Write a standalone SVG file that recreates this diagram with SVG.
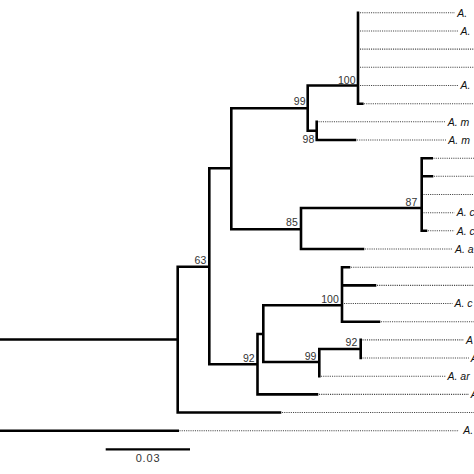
<svg xmlns="http://www.w3.org/2000/svg" width="474" height="474" viewBox="0 0 474 474">
<style>
.br{fill:none;stroke:#000;stroke-width:2.6;stroke-linecap:square;stroke-linejoin:miter}
.dot{fill:none;stroke:#444;stroke-width:1.1;stroke-dasharray:1.1 1.1}
.sp{font-family:"Liberation Sans",Arial,sans-serif;font-size:10.5px;font-style:italic;fill:#111}
.bs{font-family:"Liberation Sans",Arial,sans-serif;font-size:10.5px;fill:#333;text-anchor:end}
.sc{font-family:"Liberation Sans",Arial,sans-serif;font-size:11px;fill:#333;text-anchor:middle;letter-spacing:0.8px}
</style>
<rect width="474" height="474" fill="#fff"/>
<g id="connectors">
<path class="br" d="M-3 339.5H177.7M-3 430.7H177.7
M177.7 266.7V412.5M177.7 266.7H209.3M177.7 412.5H280
M209.3 168.3V364.3M209.3 168.3H231.3M209.3 364.3H257.5
M231.3 108.3V229.3M231.3 108.3H307.7M231.3 229.3H301
M307.7 85.5V130.7M307.7 85.5H358M307.7 130.7H316.7
M358 12.8V103.7M358 103.7H362.3
M316.7 121.8V140M316.7 140H355
M301 208V249M301 208H421.7M301 249H363
M421.7 158.2V230.8M421.7 158.2H431.7M421.7 176.3H432M421.7 230.8H426
M257.5 334V394.4M257.5 334H263.3M257.5 394.4H317
M263.3 305.3V362M263.3 305.3H342M263.3 362H319.3
M342 267.2V321.7M342 267.2H349M342 285.4H375M342 321.7H379
M319.3 349V376.2M319.3 349H360.7
M360.7 339.9V358"/>
<path class="dot" d="M360 12.8H455M360 31H458.5M360 49.1H474M360 67.3H474M360 85.5H458.5M364 103.7H474
M318.5 121.8H445.5M357 140H446
M433.5 158.2H474M434 176.3H474M423.5 194.5H474M423.5 212.7H454.5M428 230.8H454.5
M365 249H453M351 267.2H474M377 285.4H474M344 303.5H452.5M381 321.7H474
M362.5 339.9H464M362.5 358H469M321 376.2H445.5M319 394.4H469M282 412.5H474M179.5 430.7H459"/>
</g>
<g id="leaves">
<g id="leaf0"><text class="sp" x="457.3" y="16.5">A.</text></g>
<g id="leaf1"><text class="sp" x="460.5" y="34.7">A.</text></g>
<g id="leaf4"><text class="sp" x="460.5" y="89.2">A.</text></g>
<g id="leaf6"><text class="sp" x="447.7" y="125.5">A. m</text></g>
<g id="leaf7"><text class="sp" x="448.3" y="143.7">A. m</text></g>
<g id="leaf11"><text class="sp" x="456.7" y="216.4">A. c</text></g>
<g id="leaf12"><text class="sp" x="456.7" y="234.5">A. c</text></g>
<g id="leaf13"><text class="sp" x="455" y="252.7">A. a</text></g>
<g id="leaf16"><text class="sp" x="454.5" y="307.2">A. c</text></g>
<g id="leaf18"><text class="sp" x="466" y="343.6">A</text></g>
<g id="leaf19"><text class="sp" x="470.8" y="361.7">A</text></g>
<g id="leaf20"><text class="sp" x="447.5" y="379.9">A. ar</text></g>
<g id="leaf21"><text class="sp" x="470.8" y="398.1">A</text></g>
<g id="leaf23"><text class="sp" x="463.3" y="434.4">A.</text></g>
</g>
<g id="support">
<g id="n100a"><text class="bs" x="355.5" y="83.5">100</text></g>
<g id="n99a"><text class="bs" x="305.5" y="105">99</text></g>
<g id="n98"><text class="bs" x="314.3" y="142.5">98</text></g>
<g id="n85"><text class="bs" x="297.8" y="226">85</text></g>
<g id="n87"><text class="bs" x="417.3" y="205.5">87</text></g>
<g id="n63"><text class="bs" x="206.3" y="264">63</text></g>
<g id="n100b"><text class="bs" x="338.8" y="303.3">100</text></g>
<g id="n92a"><text class="bs" x="254.6" y="361.7">92</text></g>
<g id="n99b"><text class="bs" x="316.4" y="360">99</text></g>
<g id="n92b"><text class="bs" x="357.3" y="346">92</text></g>
</g>
<g id="scalebar">
<path d="M105.7 449.3H190" stroke="#000" stroke-width="2.2" fill="none"/>
<text class="sc" x="148" y="461.7">0.03</text>
</g>
</svg>
